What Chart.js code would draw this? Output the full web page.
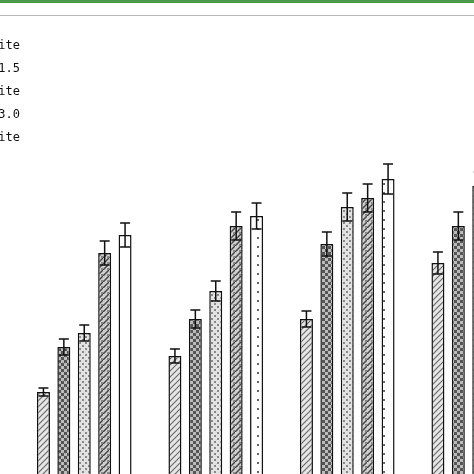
<!DOCTYPE html>
<html>
<head>
<meta charset="utf-8">
<script src="https://cdn.jsdelivr.net/npm/chart.js@4"></script>
<style>
  html, body { margin: 0; padding: 0; background: #fff; }
  #wrap { position: relative; width: 474px; height: 474px; overflow: hidden; background: #fff; }
  #c { position: absolute; left: -113px; top: 0; }
  .topline { position: absolute; left: 0; width: 474px; }
  #legend { position: absolute; left: 0; top: 38px; width: 24px; height: 103px; overflow: hidden;
            font-family: "DejaVu Sans Mono", monospace; font-size: 12px; color: #111; }
  #legend div { position: absolute; right: 4px; white-space: nowrap; }
</style>
</head>
<body>
<div id="wrap">
  <canvas id="c" width="789" height="560"></canvas>
  <div class="topline" style="top:0;height:3px;background:#4a9a4a"></div>
  <div class="topline" style="top:15px;height:1px;background:#b8b8b8"></div>
  <div id="legend"></div>
</div>
<script>
// Groups (the picture is a crop: first and last groups are cut off)
const groups = ['G0', 'G1', 'G2', 'G3', 'G4', 'G5'];
const seriesNames = ['Composite', '1.5', 'Composite', '3.0', 'Composite'];

const s1 = [40, 42, 51, 60.25, 74.25, null];
const s2 = [52, 53.25, 60.25, 79, 83.5, null];
const s3 = [58, 56.75, 67.25, 88.25, 93.5, null];
const s4 = [70, 76.75, 83.5, 90.5, 95, null];
const s5 = [76.75, 81.25, 86, 95.25, 98, null];

const e1 = [1, 1, 1.75, 2, 2.75, null];
const e2 = [2, 2, 2.25, 3, 3.5, null];
const e3 = [2, 2, 2.5, 3.5, 3.5, null];
const e4 = [3, 3, 3.5, 3.5, 3.5, null];
const e5 = [3, 3, 3.25, 3.75, 3.75, null];

// legend text (only the tail end is visible in the crop)
const legendBox = document.getElementById('legend');
seriesNames.forEach((name, i) => {
  const d = document.createElement('div');
  d.textContent = name;
  d.style.top = (i * 23) + 'px';
  legendBox.appendChild(d);
});

function makePattern(kind) {
  const p = document.createElement('canvas');
  p.width = 6; p.height = 6;
  const g = p.getContext('2d');
  if (kind === 'diag') {
    g.fillStyle = '#e6e6e6'; g.fillRect(0, 0, 6, 6);
    g.strokeStyle = '#6a6a6a'; g.lineWidth = 1.2;
    g.beginPath(); g.moveTo(0, 6); g.lineTo(6, 0); g.moveTo(-3, 3); g.lineTo(3, -3); g.moveTo(3, 9); g.lineTo(9, 3); g.stroke();
  } else if (kind === 'check') {
    g.fillStyle = '#555'; g.fillRect(0, 0, 6, 6);
    g.fillStyle = '#bbb'; g.fillRect(0, 0, 3, 3); g.fillRect(3, 3, 3, 3);
  } else if (kind === 'dots') {
    g.fillStyle = '#e2e2e2'; g.fillRect(0, 0, 6, 6);
    g.fillStyle = '#888'; g.fillRect(0, 0, 2, 2); g.fillRect(3, 3, 2, 2);
  } else if (kind === 'wave') {
    g.fillStyle = '#cfcfcf'; g.fillRect(0, 0, 6, 6);
    g.strokeStyle = '#444'; g.lineWidth = 1.5;
    g.beginPath(); g.moveTo(0, 6); g.lineTo(6, 0); g.stroke();
    g.fillStyle = '#888'; g.fillRect(4, 4, 2, 2);
  } else {
    p.width = 14; p.height = 9;
    g.fillStyle = '#fff'; g.fillRect(0, 0, 14, 9);
    g.fillStyle = '#666'; g.fillRect(6, 3, 2, 2);
  }
  return g.createPattern(p, 'repeat');
}

const ctx = document.getElementById('c').getContext('2d');
const fills = ['diag', 'check', 'dots', 'wave', 'plain'].map(makePattern);
const values = [s1, s2, s3, s4, s5];
const errors = [e1, e2, e3, e4, e5];

const errorBars = {
  id: 'errorBars',
  afterDatasetsDraw(chart) {
    const c = chart.ctx;
    const y = chart.scales.y;
    c.save();
    c.strokeStyle = '#111';
    c.lineWidth = 1.5;
    chart.data.datasets.forEach((ds, di) => {
      chart.getDatasetMeta(di).data.forEach((bar, i) => {
        const v = ds.data[i], e = errors[di][i];
        if (v == null || e == null) return;
        const top = y.getPixelForValue(v + e), bot = y.getPixelForValue(v - e);
        c.beginPath();
        c.moveTo(bar.x, top); c.lineTo(bar.x, bot);
        c.moveTo(bar.x - 5, top); c.lineTo(bar.x + 5, top);
        c.moveTo(bar.x - 5, bot); c.lineTo(bar.x + 5, bot);
        c.stroke();
      });
    });
    c.restore();
  }
};

new Chart(ctx, {
  type: 'bar',
  data: {
    labels: groups,
    datasets: values.map((v, i) => ({
      label: seriesNames[i],
      data: v,
      backgroundColor: fills[i],
      borderColor: '#111',
      borderWidth: 1.5,
      borderSkipped: false,
      barPercentage: 0.636,
      categoryPercentage: 0.776
    }))
  },
  plugins: [errorBars],
  options: {
    responsive: false,
    devicePixelRatio: 1,
    animation: false,
    layout: { padding: 0 },
    plugins: { legend: { display: false }, tooltip: { enabled: false } },
    scales: {
      x: { display: false },
      y: { display: false, min: 0, max: 140 }
    }
  }
});
</script>
</body>
</html>
